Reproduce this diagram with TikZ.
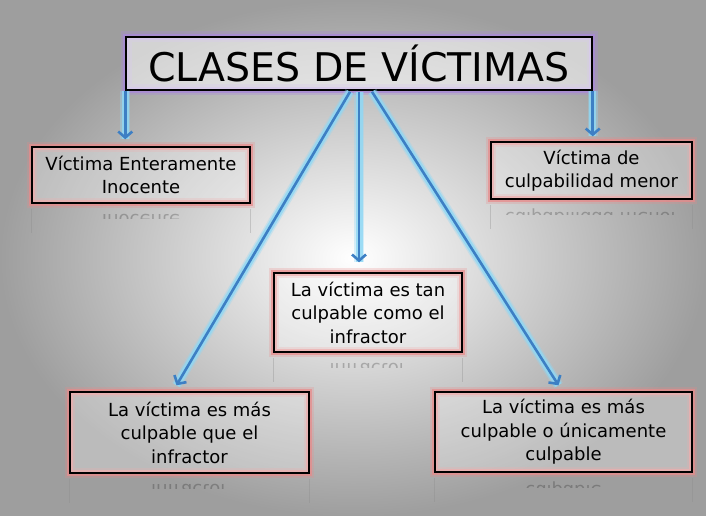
\documentclass[tikz,border=0pt]{standalone}
\usepackage{fontspec}
\setmainfont{DejaVu Sans}
\usetikzlibrary{arrows.meta, calc}
\definecolor{arrowblue}{HTML}{3D7FC4}
\definecolor{glowblue}{HTML}{8FD8F5}
\definecolor{glowred}{HTML}{E98A8A}
\definecolor{glowviolet}{HTML}{A98BD6}

\begin{document}
\begin{tikzpicture}[
		x=1pt, y=-1pt,
		every node/.style={align=center, inner sep=0pt, font=\fontsize{18}{23.5}\selectfont},
		box/.style={rectangle, draw=black, line width=1.5pt, fill=white, fill opacity=0.3, text opacity=1,
			preaction={draw=glowred, line width=10pt, opacity=0.25},
			preaction={draw=glowred, line width=6pt, opacity=0.7}},
		titlebox/.style={rectangle, draw=black, line width=1.5pt, fill=white, fill opacity=0.55, text opacity=1,
			minimum width=466pt, minimum height=53pt, font=\fontsize{39.5}{42}\selectfont,
			preaction={draw=glowviolet, line width=11pt, opacity=0.35},
			preaction={draw=glowviolet, line width=6pt, opacity=0.85}},
		link/.style={draw=arrowblue, line width=2.6pt, -{Straight Barb[length=6pt, width=14pt]},
			preaction={draw=glowblue, line width=10pt, opacity=0.35, arrows=-},
			preaction={draw=glowblue, line width=7pt, opacity=0.8, arrows=-}},
		mirror/.style={yscale=-1, text=black, opacity=0.22},
		side/.style={draw=black!45, line width=1pt, opacity=0.35}
	]
  \shade[inner color=white, outer color=black!38] (0,0) rectangle (706,516);

  \node (title) [titlebox] at (359, 63.5) {CLASES DE VÍCTIMAS};

  \node (c_ino) [box, minimum width=218pt, minimum height=56pt] at (141, 175) {Víctima Enteramente\\Inocente};
  \node (c_men) [box, minimum width=201pt, minimum height=57pt] at (591.5, 170.5) {Víctima de\\culpabilidad menor};
  \node (c_tan) [box, minimum width=188pt, minimum height=79pt] at (368, 312.5) {La víctima es tan\\culpable como el\\infractor};
  \node (c_mas) [box, minimum width=239pt, minimum height=81pt] at (189.5, 432.5) {La víctima es más\\culpable que el\\infractor};
  \node (c_uni) [box, minimum width=257pt, minimum height=80pt] at (563.5, 432) {La víctima es más\\culpable o únicamente\\culpable};

  % reflections
  \begin{scope}
    \clip (0, 206) rectangle (706, 218);
    \node (r_ino) [mirror] at (141, 221) {Inocente};
  \end{scope}
  \begin{scope}
    \clip (0, 202) rectangle (706, 214);
    \node (r_men) [mirror] at (591.5, 217) {culpabilidad menor};
  \end{scope}
  \begin{scope}
    \clip (0, 355) rectangle (706, 367);
    \node (r_tan) [mirror] at (368, 370) {infractor};
  \end{scope}
  \begin{scope}
    \clip (0, 476) rectangle (706, 488);
    \node (r_mas) [mirror] at (189.5, 491) {infractor};
  \end{scope}
  \begin{scope}
    \clip (0, 475) rectangle (706, 487);
    \node (r_uni) [mirror] at (563.5, 490) {culpable};
  \end{scope}
  \foreach \b in {c_ino, c_men, c_tan, c_mas, c_uni} {
    \draw [side] ($(\b.south west)+(0,5)$) -- ++(0,24);
    \draw [side] ($(\b.south east)+(0,5)$) -- ++(0,24);
  }

  \coordinate (s_l) at ($(title.south)+(-9,1)$);
  \coordinate (s_c) at ($(title.south)+(0,1)$);
  \coordinate (s_r) at ($(title.south)+(13,1)$);
  \coordinate (e_l) at ($(c_mas.north)+(-13,-6)$);
  \coordinate (e_r) at ($(c_uni.north)+(-5,-6)$);

  \draw [link] (title.south west) -- (title.south west |- c_ino.north) [shorten >=7pt];
  \draw [link] (title.south east) -- (title.south east |- c_men.north) [shorten >=5pt];
  \draw [link] (s_c) -- (s_c |- c_tan.north) [shorten >=10pt];
  \draw [link] (s_l) -- (e_l);
  \draw [link] (s_r) -- (e_r);
\end{tikzpicture}
\end{document}
